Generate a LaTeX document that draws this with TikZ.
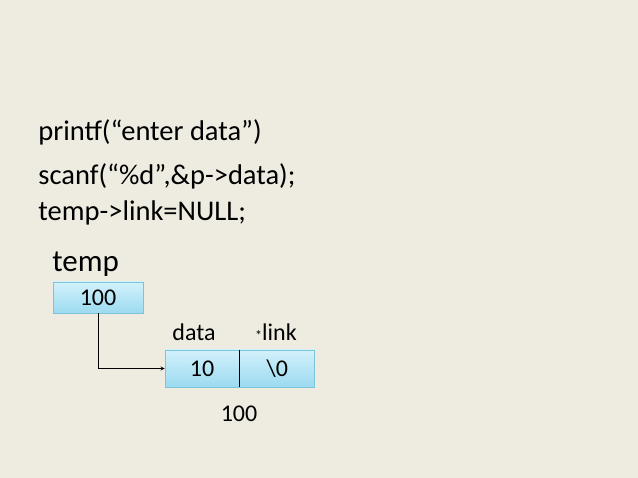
\documentclass[tikz,border=0pt]{standalone}
\usepackage{fontspec}
\setmainfont{Carlito}
\usetikzlibrary{positioning}
\definecolor{paper}{HTML}{EEEBE1}
\definecolor{celltop}{HTML}{D2F1FB}
\definecolor{cellbot}{HTML}{9CDAF0}
\definecolor{cellline}{HTML}{7CC3DC}
\tikzset{
  cell/.style={draw=cellline,top color=celltop,bottom color=cellbot,minimum height=31pt,inner sep=0pt,font=\fontsize{24}{28}\selectfont},
  code/.style={anchor=base west,inner sep=0pt,font=\fontsize{28.5}{34}\selectfont},
  tag/.style={inner sep=0pt,font=\fontsize{24}{28}\selectfont}
}
\begin{document}
\begin{tikzpicture}[x=1pt,y=-1pt,>=stealth,thick]
  \fill[paper] (0,0) rectangle (638,478);
  \useasboundingbox (0,0) rectangle (638,478);
  % statements
  \node[code] (l1) at (38,141) {printf(“enter data”)};
  \node[code] (l2) at (38,185) {scanf(“\%d”,\&p->data);};
  \node[code] (l3) at (38,221) {temp->link=NULL;};
  % pointer
  \node[code,font=\fontsize{31}{36}\selectfont] (name) at (52,272) {temp};
  \node[cell,minimum width=90pt] (temp) at (98,297.5) {100};
  % list node
  \node[cell,minimum width=74pt,minimum height=37pt] (data) at (202,368.5) {10};
  \node[cell,minimum width=75pt,minimum height=37pt,right=0pt of data] (link) {\textbackslash 0};
  \draw[line width=1.3pt] (data.north east) -- (data.south east);
  \node[tag] (dl) at (194,332) {data};
  \node[tag] (ll) at (276,332) {{\fontsize{14}{14}\selectfont *}link};
  \node[tag] (addr) at (239,414) {100};
  \coordinate (bend) at (temp.south |- data.west);
  \draw[->,thick] (temp.south) -- (bend) -- (data.west);
\end{tikzpicture}
\end{document}
